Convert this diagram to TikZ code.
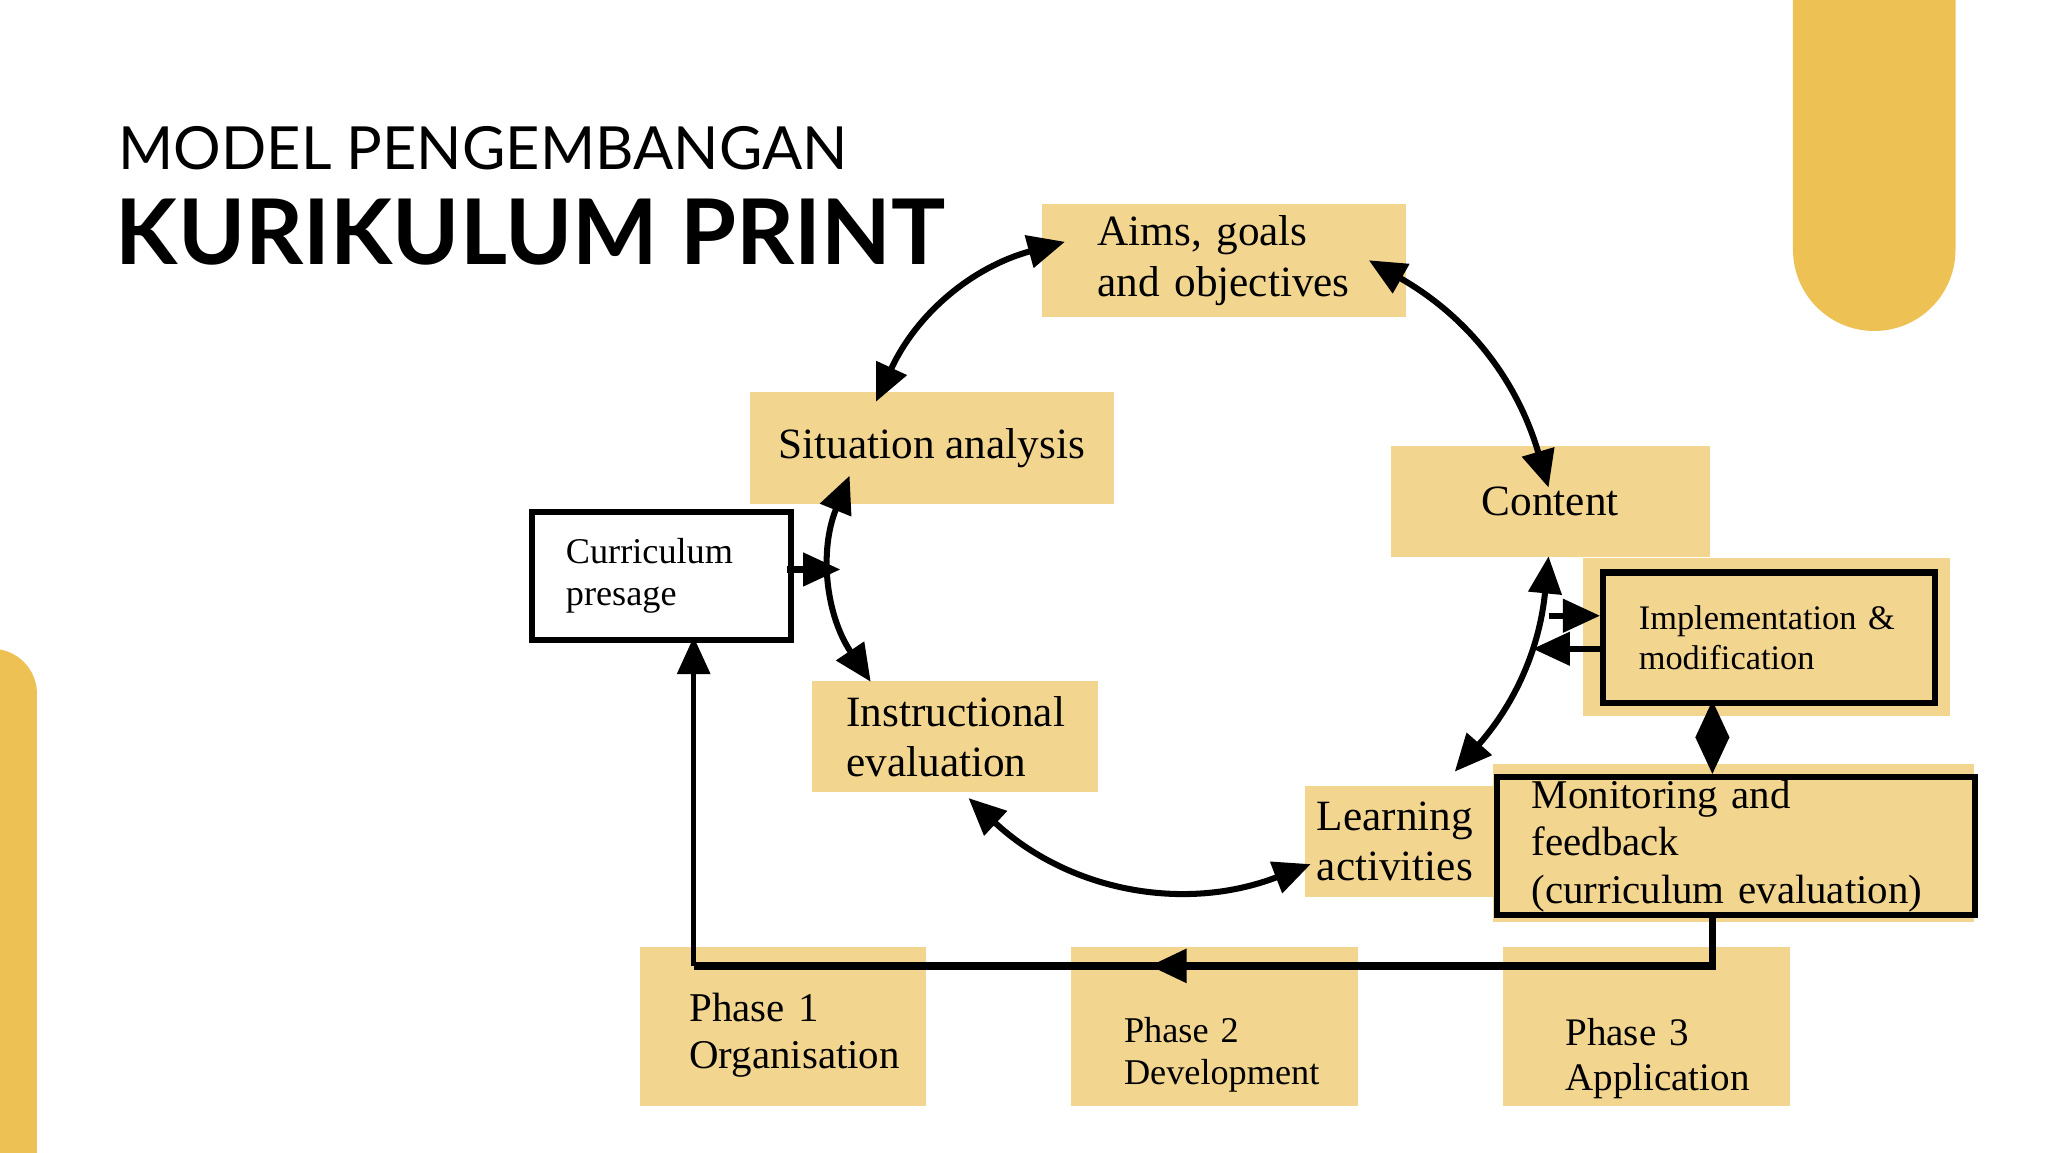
\documentclass[tikz,border=0pt]{standalone}
\usepackage{fontspec}
\setmainfont{Liberation Serif}
\newfontfamily\lato{Lato}
\usetikzlibrary{arrows.meta}
\definecolor{gold}{HTML}{EEC155}
\definecolor{sand}{HTML}{F2D58F}
\hyphenpenalty=10000
\begin{document}
\begin{tikzpicture}[x=0.01cm,y=-0.01cm,
  box/.style={fill=sand,draw=none,anchor=north west,align=left,inner ysep=0pt,font=\fontsize{9.3}{10.8}\selectfont},
  conn/.style={line width=1.3pt,{Triangle[length=8pt,width=7pt]}-{Triangle[length=8pt,width=7pt]}},
  one/.style={line width=1.3pt,-{Triangle[length=8pt,width=7pt]}}]
\useasboundingbox (0,0) rectangle (1550,872);
% decorations
\fill[gold] (1357,-5) -- (1357,189) arc[start angle=180,end angle=0,radius=61.5] -- (1480,-5) -- cycle;
\fill[gold] (-40,880) -- (-40,525) arc[start angle=180,end angle=360,radius=34] -- (28,880) -- cycle;
% title
\node[anchor=base west,inner sep=0,font=\lato\fontsize{12.8}{14}\selectfont] (t1) at (89,128) {MODEL PENGEMBANGAN};
\node[anchor=base west,inner sep=0,font=\lato\bfseries\fontsize{19.5}{22}\selectfont] (t2) at (87,200) {KURIKULUM PRINT};
% boxes
\node[box,minimum height=0.85cm,text width=1.91cm,inner xsep=0.42cm] (aims) at (788,154) {Aims, goals\\and objectives};
\node[box,minimum width=2.75cm,minimum height=0.85cm,align=center] (sit) at (567,296) {Situation analysis};
\node[box,minimum width=2.41cm,minimum height=0.84cm,align=center] (cont) at (1052,337) {Content};
\node[box,fill=white,draw=black,line width=1.3pt,minimum height=0.97cm,text width=1.44cm,inner xsep=0.26cm,font=\fontsize{7.8}{8.9}\selectfont] (pres) at (400,385) {Curriculum\\presage};
\fill[sand] (1198,422) rectangle (1476,542);
\node[box,draw=black,line width=1.3pt,minimum height=0.99cm,text width=1.97cm,inner xsep=0.27cm,font=\fontsize{7.4}{8.6}\selectfont] (impl) at (1211,431) {Implementation \&\\modification};
\node[box,minimum height=0.84cm,text width=1.64cm,inner xsep=0.26cm] (instr) at (614,515) {Instructional\\evaluation};
\node[box,minimum height=0.84cm,text width=1.25cm,inner xsep=0.09cm] (learn) at (987,594) {Learning\\activities};
\fill[sand] (1130,578) rectangle (1494,698);
\node[box,draw=black,line width=1.3pt,minimum height=1.04cm,text width=3.09cm,inner xsep=0.26cm,font=\fontsize{8.8}{10.2}\selectfont] (mon) at (1131,586) {Monitoring and feedback\\(curriculum evaluation)};
\node[box,minimum height=1.2cm,text width=1.42cm,inner xsep=0.37cm,font=\fontsize{8.8}{10}\selectfont] (p1) at (484,716) {\rule{0pt}{0.35cm}Phase 1\\Organisation};
\node[box,minimum height=1.2cm,text width=1.37cm,inner xsep=0.4cm,font=\fontsize{7.8}{8.9}\selectfont] (p2) at (810,716) {\rule{0pt}{0.62cm}Phase 2\\Development};
\node[box,minimum height=1.2cm,text width=1.23cm,inner xsep=0.47cm,font=\fontsize{8.4}{9.7}\selectfont] (p3) at (1137,716) {\rule{0pt}{0.7cm}Phase 3\\Application};
% connectors
\coordinate (a1) at (806,183); \coordinate (s1) at (663,304);
\draw[conn] (a1) to[bend right=25] (s1);
\coordinate (a2) at (1036,197); \coordinate (c1) at (1172,369);
\draw[conn] (a2) to[bend left=22] (c1);
\coordinate (pr) at (596,431); \coordinate (pr2) at (636,431);
\draw[one] (pr) -- (pr2);
\coordinate (s2) at (643,360); \coordinate (i1) at (659,516);
\draw[conn] (s2) to[bend right=28] (i1);
\coordinate (i2) at (733,604); \coordinate (l1) at (992,654);
\draw[conn] (i2) to[bend right=32] (l1);
\coordinate (c2) at (1172,421); \coordinate (l2) at (1101,584);
\draw[conn] (c2) to[bend left=18] (l2);
\coordinate (m1) at (1172,466); \coordinate (m2) at (1211,466);
\draw[one] (m1) -- (m2);
\coordinate (m3) at (1211,491); \coordinate (m4) at (1160,491);
\draw[one] (m3) -- (m4);
\coordinate (im) at (1296,530); \coordinate (mo) at (1296,586);
\draw[conn] (im) -- (mo);
\coordinate (mb) at (1296,690); \coordinate (c3) at (1296,731); \coordinate (c4) at (525,731); \coordinate (pb) at (525,482); \coordinate (mid) at (870,731);
\draw[line width=1.6pt] (mb) -- (c3) -- (c4);
\draw[line width=1.6pt,-{Triangle[length=8pt,width=7pt]}] (c3) -- (mid);
\draw[one,line width=1pt] (c4) -- (pb);
\end{tikzpicture}
\end{document}
